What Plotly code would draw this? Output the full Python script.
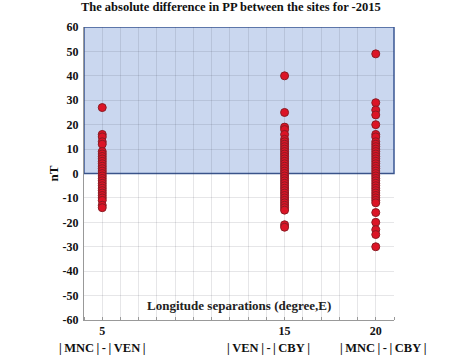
import plotly.graph_objects as go

separations = [5, 15, 20]
pair_labels = ["|MNC|-|VEN|", "|VEN|-|CBY|", "|MNC|-|CBY|"]

diff_5 = [27, 16, 15, 13, 12, 9, 8, 7, 6, 5, 4, 3, 2, 1, 0, -1, -2, -3, -4, -5,
          -6, -7, -8, -9, -10, -11, -13, -14]
diff_15 = [40, 25, 19, 18, 16, 14, 13, 12, 11, 10, 9, 8, 7, 6, 5, 4, 3, 2, 1, 0,
           -1, -2, -3, -4, -5, -6, -7, -8, -9, -10, -11, -12, -13, -14, -15, -21, -22]
diff_20 = [49, 29, 26, 24, 20, 16, 15, 13, 12, 11, 10, 9, 8, 7, 6, 5, 4, 3, 2, 1, 0,
           -1, -2, -3, -4, -5, -6, -7, -8, -9, -10, -11, -12, -16, -20, -23, -25, -30]

y_ticks = list(range(-60, 61, 10))

series = [diff_5, diff_15, diff_20]
xs, ys = [], []
for s, vals in zip(separations, series):
    xs += [s] * len(vals)
    ys += vals

fig = go.Figure()
fig.add_shape(type="rect", xref="paper", yref="y", x0=0, x1=1, y0=0, y1=60,
              fillcolor="#cad7ef", line=dict(color="#3a5794", width=1.5),
              layer="below")
fig.add_trace(go.Scatter(x=xs, y=ys, mode="markers",
                         marker=dict(size=8, color="#dc1426",
                                     line=dict(color="#8a1c24", width=1)),
                         showlegend=False, cliponaxis=False))

font_serif = "Liberation Serif, Times New Roman, serif"
grid_c = "rgba(60,60,80,0.13)"
fig.update_layout(
    width=474, height=358,
    margin=dict(l=84, r=80, t=27, b=38, autoexpand=False),
    plot_bgcolor="white", paper_bgcolor="white",
    title=dict(text="<b>The absolute difference in PP between the sites for -2015</b>",
               x=0.487, xanchor="center", y=0.995, yanchor="top",
               font=dict(family=font_serif, size=12.5, color="#111"), automargin=False),
    font=dict(family=font_serif, color="#111"),
    xaxis=dict(range=[4, 21], tickmode="array", tickvals=separations,
               ticktext=["<b>%d</b>" % s for s in separations],
               tickfont=dict(size=12), showgrid=False, zeroline=False,
               showline=True, linecolor="#999", linewidth=1, automargin=False,
               minor=dict(dtick=1, showgrid=True, gridcolor=grid_c,
                          ticks="inside", ticklen=3, tickcolor="#999"),
               ticks="", ticklen=0),
    yaxis=dict(range=[-60, 60], tickmode="array", tickvals=y_ticks,
               ticktext=["<b>%d</b>" % v for v in y_ticks],
               tickfont=dict(size=12), showgrid=True, gridcolor=grid_c,
               zeroline=False, showline=True, linecolor="#999", linewidth=1,
               automargin=False, ticklabelstandoff=2,
               title=dict(text="<b>nT</b>", font=dict(size=13), standoff=1)),
)

fig.add_annotation(text="<b>Longitude separations (degree,E)</b>", xref="paper", yref="y",
                   x=0.5, y=-54, showarrow=False, font=dict(size=13, family=font_serif, color="#222"))

shifts = [0, -16, 7]
thin = "\u2009"
for s, lab, dx in zip(separations, pair_labels, shifts):
    spaced = lab.replace("|", thin + "|" + thin).strip(thin)
    fig.add_annotation(text="<b>%s</b>" % spaced, xref="x", yref="paper",
                       x=s, y=0, yshift=-28, xshift=dx, yanchor="middle", showarrow=False,
                       font=dict(size=12.5, family=font_serif, color="#111"))

fig.write_html("out.html", config={"displayModeBar": False},
               post_script="document.body.style.margin='0px';")
